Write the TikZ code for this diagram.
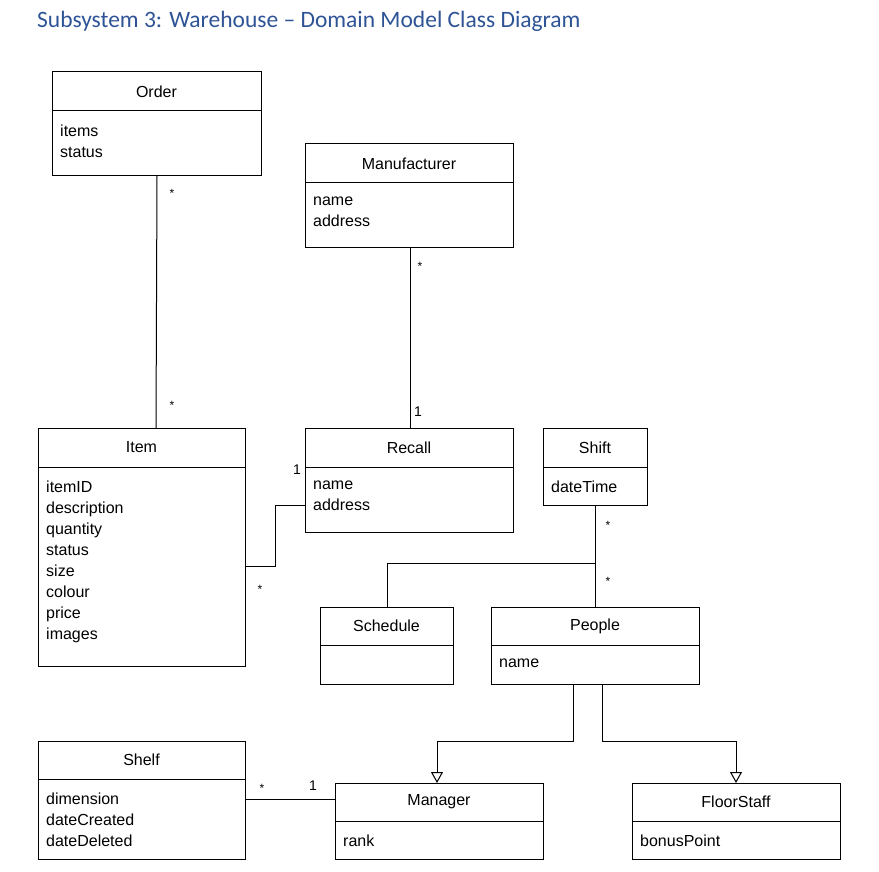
\documentclass[tikz,border=0pt]{standalone}
\usepackage{fontspec}
\setmainfont{Liberation Sans}
\newfontfamily\titlefont{Carlito}
\usetikzlibrary{arrows.meta}
\definecolor{ttl}{RGB}{47,84,150}
\begin{document}
\begin{tikzpicture}[x=1pt,y=-1pt,
  bx/.style={draw,line width=1pt},
  ln/.style={draw,line width=1pt},
  ttxt/.style={font=\fontsize{16}{18}\selectfont,anchor=center},
  atxt/.style={font=\fontsize{16}{21}\selectfont,anchor=north west,align=left,inner sep=0pt},
  mlt/.style={font=\fontsize{12}{13}\selectfont,inner sep=0pt},
  gen/.style={-{Triangle[open,length=11pt,width=12pt]}}]
\useasboundingbox (0,0) rectangle (879,872);
\node[anchor=west,text=ttl,font=\titlefont\fontsize{23.5}{26}\selectfont,inner sep=0pt] (title) at (37,21) {Subsystem 3: Warehouse – Domain Model Class Diagram};
\newcommand{\cls}[8]{%
  \draw[bx] (#2,#3) rectangle (#4,#5);
  \draw[bx] (#2,#6) -- (#4,#6);
  \node[ttxt] (#1) at ({(#2+#4)/2},{(#3+#6)/2}) {#7};
  \node[atxt] (#1a) at (#2+8,#6+14) {#8};
  \coordinate (#1nw) at (#2,#3);}
\cls{order}{52}{72}{261}{176}{111}{Order}{items\\status}
\cls{manu}{305}{144}{513}{247}{183}{Manufacturer}{name\\address}
\cls{item}{38}{428}{245}{666}{467}{Item}{itemID\\description\\quantity\\status\\size\\colour\\price\\images}
\cls{recall}{305}{428}{513}{532}{467}{Recall}{name\\address}
\cls{shift}{543}{428}{647}{505}{467}{Shift}{dateTime}
\cls{sched}{320}{607}{453}{684}{645}{Schedule}{}
\cls{people}{491}{607}{699}{684}{645}{People}{name}
\cls{shelf}{38}{741}{245}{859}{779}{Shelf}{dimension\\dateCreated\\dateDeleted}
\cls{mgr}{335}{783}{543}{859}{821}{Manager}{rank}
\cls{floor}{632}{783}{840}{859}{821}{FloorStaff}{bonusPoint}
\coordinate (o1) at (157,176); \coordinate (i1) at (156,428);
\coordinate (m1) at (410,247); \coordinate (r1) at (410,428);
\coordinate (i2) at (245,566); \coordinate (r2) at (305,505);
\coordinate (s1) at (595,505); \coordinate (p1) at (595,607);
\coordinate (sc1) at (387,607); \coordinate (j1) at (595,563);
\coordinate (p2) at (573,684); \coordinate (mg1) at (437,783);
\coordinate (p3) at (602,684); \coordinate (f1) at (736,783);
\coordinate (sh1) at (245,799); \coordinate (mg2) at (335,799);
\draw[ln] (o1) -- (i1);
\draw[ln] (m1) -- (r1);
\draw[ln] (i2) -- (275,566) -- (275,505) -- (r2);
\draw[ln] (s1) -- (p1);
\draw[ln] (sc1) -- (387,563) -- (j1);
\draw[ln,gen] (p2) -- (573,741) -- (437,741) -- (mg1);
\draw[ln,gen] (p3) -- (602,741) -- (736,741) -- (f1);
\draw[ln] (sh1) -- (mg2);
\node[mlt] (l1) at (172,193) {*};
\node[mlt] (l2) at (172,405) {*};
\node[mlt] (l3) at (420,266) {*};
\node[mlt,font=\fontsize{14}{15}\selectfont] (l4) at (418,412) {1};
\node[mlt,font=\fontsize{14}{15}\selectfont] (l5) at (297,470) {1};
\node[mlt] (l6) at (260,589) {*};
\node[mlt] (l7) at (608,525) {*};
\node[mlt] (l8) at (608,581) {*};
\node[mlt] (l9) at (262,788) {*};
\node[mlt,font=\fontsize{14}{15}\selectfont] (l10) at (313,786) {1};
\end{tikzpicture}
\end{document}
